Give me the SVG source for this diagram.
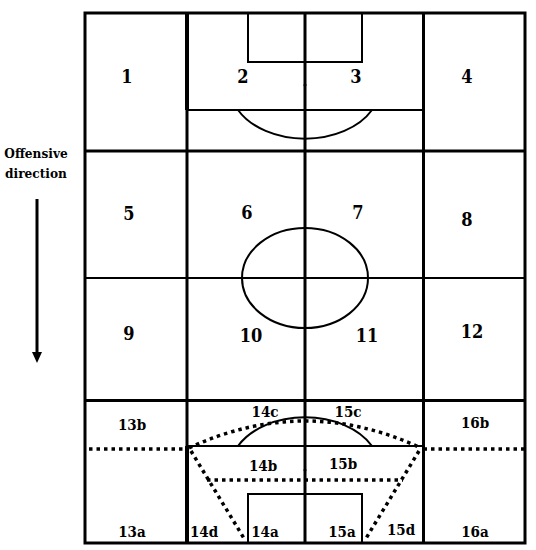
<svg xmlns="http://www.w3.org/2000/svg" width="536" height="550" viewBox="0 0 536 550">
<style>
.ln{stroke:#000;fill:none;stroke-width:2}
.tk{stroke:#000;fill:none;stroke-width:3}
.dt{stroke:#000;fill:none;stroke-width:3.5;stroke-dasharray:3.5 4}
text{font-family:'DejaVu Serif Condensed','DejaVu Serif',serif;font-weight:bold;fill:#000;text-anchor:middle}
.z{font-size:18px}
.s{font-size:15px}
.o{font-size:13.5px}
</style>
<defs>
<marker id="ah" markerWidth="12" markerHeight="12" refX="1" refY="5" orient="auto" markerUnits="userSpaceOnUse" viewBox="0 0 12 12">
<path d="M0,0 L11,5 L0,10 Z" fill="#000"/>
</marker>
</defs>
<rect width="536" height="550" fill="#fff"/>
<g id="field">
<rect x="85" y="13" width="440" height="530" class="tk"/>
<line x1="85" y1="151" x2="525" y2="151" class="tk"/>
<line x1="85" y1="278" x2="525" y2="278" class="ln"/>
<line x1="85" y1="400.5" x2="525" y2="400.5" class="tk"/>
<line x1="187" y1="13" x2="187" y2="543" class="tk"/>
<line x1="423.5" y1="13" x2="423.5" y2="543" class="tk"/>
<line x1="305" y1="13" x2="305" y2="543" class="tk"/>
<line x1="187" y1="13" x2="187" y2="110" stroke="#000" stroke-width="4"/>
<line x1="187" y1="446" x2="187" y2="543" stroke="#000" stroke-width="4"/>
<line x1="187" y1="110" x2="423.5" y2="110" class="ln"/>
<rect x="248" y="13" width="114" height="49" class="ln"/>
<path d="M238,110 A75,52 0 0 0 372,110" class="ln"/>
<circle cx="305" cy="85" r="1.5" fill="#000"/>
<ellipse cx="305" cy="278" rx="63" ry="50" class="ln"/>
<line x1="187" y1="446" x2="423.5" y2="446" class="ln"/>
<rect x="248" y="494" width="114" height="49" class="ln"/>
<path d="M238,446 A75,52 0 0 1 372,446" class="ln"/>
<circle cx="305" cy="470" r="1.5" fill="#000"/>
</g>
<g id="dotted">
<line x1="89" y1="449" x2="187" y2="449" class="dt"/>
<line x1="423.5" y1="449" x2="525" y2="449" class="dt"/>
<path d="M189,448 Q305,394 421,448" class="dt"/>
<line x1="191" y1="451" x2="245" y2="540" class="dt"/>
<line x1="419" y1="451" x2="365" y2="540" class="dt"/>
<line x1="207" y1="480" x2="403" y2="480" class="dt"/>
</g>
<g id="labels">
<text class="z" x="127" y="83">1</text>
<text class="z" x="243" y="83">2</text>
<text class="z" x="356" y="83">3</text>
<text class="z" x="467" y="83">4</text>
<text class="z" x="129" y="220">5</text>
<text class="z" x="247" y="219">6</text>
<text class="z" x="358" y="219">7</text>
<text class="z" x="467" y="226">8</text>
<text class="z" x="129" y="340">9</text>
<text class="z" x="251" y="342">10</text>
<text class="z" x="367" y="342">11</text>
<text class="z" x="472" y="338">12</text>
<text class="s" x="132" y="430">13b</text>
<text class="s" x="265" y="417">14c</text>
<text class="s" x="348" y="417">15c</text>
<text class="s" x="475" y="428">16b</text>
<text class="s" x="263" y="471">14b</text>
<text class="s" x="343" y="469">15b</text>
<text class="s" x="132" y="537">13a</text>
<text class="s" x="204" y="537">14d</text>
<text class="s" x="265" y="537">14a</text>
<text class="s" x="342" y="537">15a</text>
<text class="s" x="401" y="535">15d</text>
<text class="s" x="475" y="537">16a</text>
</g>
<g id="direction">
<text class="o" x="36" y="158">Offensive</text>
<text class="o" x="36" y="178">direction</text>
<line x1="37" y1="199" x2="37" y2="353" stroke="#000" stroke-width="3" marker-end="url(#ah)"/>
</g>
</svg>
